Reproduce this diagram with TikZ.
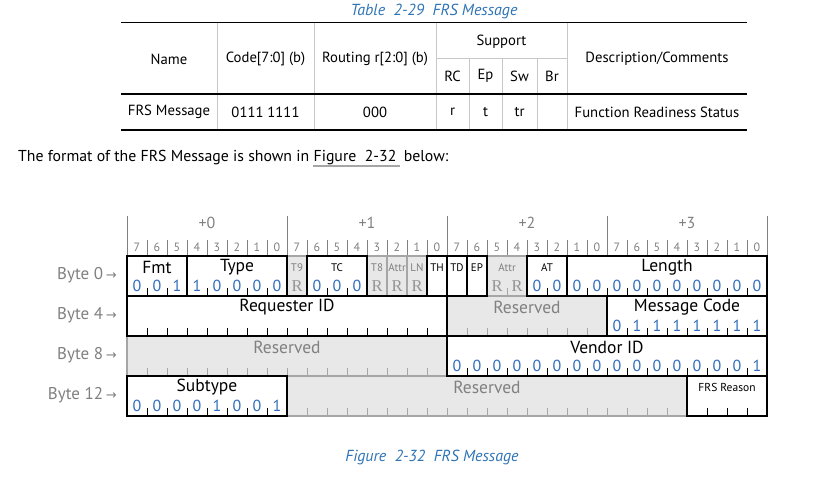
\documentclass[tikz,border=0pt]{standalone}
\usepackage{fontspec}
\setmainfont{PT Sans}
\newfontfamily\serifR{Liberation Serif}
\newfontfamily\arrowf{DejaVu Sans}
\definecolor{capblue}{RGB}{46,116,181}
\definecolor{valblue}{RGB}{47,110,190}
\definecolor{lbl}{RGB}{128,128,128}
\definecolor{rfill}{RGB}{232,232,232}
\definecolor{rline}{RGB}{166,166,166}
\definecolor{vline}{RGB}{200,200,200}
\newcommand\smlab{\fontsize{11}{11}\selectfont}
\tikzset{
  wbox/.style={fill=white,draw=black,line width=1.7pt},
  gbox/.style={fill=rfill,draw=rline,line width=1.3pt},
  wtick/.style={draw=black,line width=0.9pt},
  gtick/.style={draw=rline,line width=0.9pt},
  wlab/.style={inner sep=0pt,text=black,font=\fontsize{17.5}{17.5}\selectfont},
  glab/.style={inner sep=0pt,text=lbl,font=\fontsize{17.5}{17.5}\selectfont},
  wval/.style={inner sep=0pt,text=valblue,font=\fontsize{16}{16}\selectfont},
  gval/.style={inner sep=0pt,text=lbl!85,font=\serifR\fontsize{16.5}{16.5}\selectfont},
  tcell/.style={inner sep=0pt,font=\fontsize{14.7}{14.7}\selectfont},
  hdr/.style={inner sep=0pt,text=lbl,font=\fontsize{16}{16}\selectfont},
  bitnum/.style={inner sep=0pt,text=lbl,font=\fontsize{12}{12}\selectfont},
  rowlab/.style={inner sep=0pt,text=lbl,anchor=east,font=\fontsize{17}{17}\selectfont},
  hline/.style={line width=1.8pt,draw=black},
  vsep/.style={line width=0.8pt,draw=vline},
  para/.style={inner sep=0pt,anchor=base west,font=\fontsize{15.8}{15.8}\selectfont},
  captxt/.style={inner sep=0pt,text=capblue,font=\itshape\fontsize{16}{16}\selectfont}
}
% #1 name, #2 start bit, #3 nbits, #4 row, #5 kind (w/g), #6 label, #7 values
\newcommand\bitfield[7]{%
  \pgfmathsetmacro\xa{127+20*#2}%
  \pgfmathsetmacro\xb{127+20*(#2+#3)}%
  \pgfmathsetmacro\ya{256+40*#4}%
  \pgfmathsetmacro\yb{296+40*#4}%
  \pgfmathtruncatemacro\nlast{#3-1}%
  \path[#5box] (\xa,\ya) rectangle (\xb,\yb);
  \ifnum#3>1
    \foreach \k in {1,...,\nlast} {
      \draw[#5tick] ({\xa+20*\k},\yb) -- ++(0,-8);
    }
  \fi
  \node[#5lab] (#1) at ({(\xa+\xb)/2},{\ya+11.5}) {#6};
  \def\vals{#7}%
  \ifx\vals\empty\else
    \foreach \v [count=\i from 0] in {#7} {
      \node[#5val] at ({\xa+20*\i+10},{\ya+30}) {\v};
    }
  \fi
}
\begin{document}
\begin{tikzpicture}[x=1pt,y=-1pt]
\useasboundingbox (0,0) rectangle (834,481);
% ---------- table ----------
\node[captxt] (tcap) at (434,12) {Table\ \ 2-29\ \ FRS Message};
\foreach \x in {217,314,436,567} \draw[vsep] (\x,22) -- (\x,130);
\foreach \x in {469,502,537} \draw[vsep] (\x,58) -- (\x,130);
\draw[vsep] (436,58) -- (567,58);
\draw[hline] (121,22.5) -- (747,22.5);
\draw[hline] (121,94) -- (747,94);
\draw[hline] (121,130) -- (747,130);
\node[tcell] (hname) at (169,59) {Name};
\node[tcell] (hcode) at (265.5,59) {Code[7:0] (b)};
\node[tcell] (hrout) at (375,59) {Routing r[2:0] (b)};
\node[tcell] (hsup) at (501.5,42) {Support};
\node[tcell] (hrc) at (452.5,76) {RC};
\node[tcell] (hep) at (485.5,76) {Ep};
\node[tcell] (hsw) at (519.5,76) {Sw};
\node[tcell] (hbr) at (552,76) {Br};
\node[tcell] (hdesc) at (657,59) {Description/Comments};
\node[tcell] (dname) at (169,112) {FRS Message};
\node[tcell] (dcode) at (265.5,112) {0111 1111};
\node[tcell] (drout) at (375,112) {000};
\node[tcell] (drc) at (452.5,112) {r};
\node[tcell] (dep) at (485.5,112) {t};
\node[tcell] (dsw) at (519.5,112) {tr};
\node[tcell] (ddesc) at (657,112) {Function Readiness Status};
% ---------- paragraph ----------
\node[para] (p1) at (18,161) {The format of the FRS Message is shown in};
\node[para] (p2) at ([xshift=4pt]p1.base east) {Figure\ \ 2-32};
\node[para] (p3) at ([xshift=7pt]p2.base east) {below:};
\draw[draw=lbl!70,line width=1.4pt] ([yshift=-5pt]p2.base west) -- ([xshift=3.5pt,yshift=-5pt]p2.base east);
% ---------- header ----------
\foreach \b in {0,...,3} {
  \node[hdr] (byte\b) at ({207+160*\b},223) {+\b};
}
\foreach \i in {0,...,32} {
  \pgfmathtruncatemacro\m{mod(\i,8)}
  \ifnum\m=0
    \draw[draw=lbl,line width=0.8pt] ({127+20*\i},216) -- ({127+20*\i},256);
  \else
    \draw[draw=lbl,line width=0.8pt] ({127+20*\i},240) -- ({127+20*\i},256);
  \fi
}
\foreach \i in {0,...,31} {
  \pgfmathtruncatemacro\n{7-mod(\i,8)}
  \node[bitnum] (bit\i) at ({137+20*\i},247.5) {\n};
}
% ---------- row labels ----------
\foreach \r/\t in {0/0,1/4,2/8,3/12} {
  \node[rowlab] (row\r) at (117,{275.5+40*\r}) {Byte \t\,{\arrowf\fontsize{13}{13}\selectfont →}};
}
% ---------- gray fields ----------
\bitfield{t9}{8}{1}{0}{g}{\smlab T9}{R}
\bitfield{t8}{12}{1}{0}{g}{\smlab T8}{R}
\bitfield{attra}{13}{1}{0}{g}{\smlab Attr}{R}
\bitfield{ln}{14}{1}{0}{g}{\smlab LN}{R}
\bitfield{attrb}{18}{2}{0}{g}{\smlab Attr}{R,R}
\bitfield{resa}{16}{8}{1}{g}{Reserved}{}
\bitfield{resb}{0}{16}{2}{g}{Reserved}{}
\bitfield{resc}{8}{20}{3}{g}{Reserved}{}
% ---------- white fields ----------
\bitfield{fmt}{0}{3}{0}{w}{Fmt}{0,0,1}
\bitfield{type}{3}{5}{0}{w}{Type}{1,0,0,0,0}
\bitfield{tc}{9}{3}{0}{w}{\smlab TC}{0,0,0}
\bitfield{th}{15}{1}{0}{w}{\smlab TH}{}
\bitfield{td}{16}{1}{0}{w}{\smlab TD}{}
\bitfield{ep}{17}{1}{0}{w}{\smlab EP}{}
\bitfield{at}{20}{2}{0}{w}{\smlab AT}{0,0}
\bitfield{len}{22}{10}{0}{w}{Length}{0,0,0,0,0,0,0,0,0,0}
\bitfield{reqid}{0}{16}{1}{w}{Requester ID}{}
\bitfield{msgcode}{24}{8}{1}{w}{Message Code}{0,1,1,1,1,1,1,1}
\bitfield{vendor}{16}{16}{2}{w}{Vendor ID}{0,0,0,0,0,0,0,0,0,0,0,0,0,0,0,1}
\bitfield{subtype}{0}{8}{3}{w}{Subtype}{0,0,0,0,1,0,0,1}
\bitfield{frsr}{28}{4}{3}{w}{\raisebox{-1.5pt}{\fontsize{11.5}{11.5}\selectfont FRS Reason}}{}
% ---------- caption ----------
\node[captxt] (fcap) at (432,457) {Figure\ \ 2-32\ \ FRS Message};
\end{tikzpicture}
\end{document}
